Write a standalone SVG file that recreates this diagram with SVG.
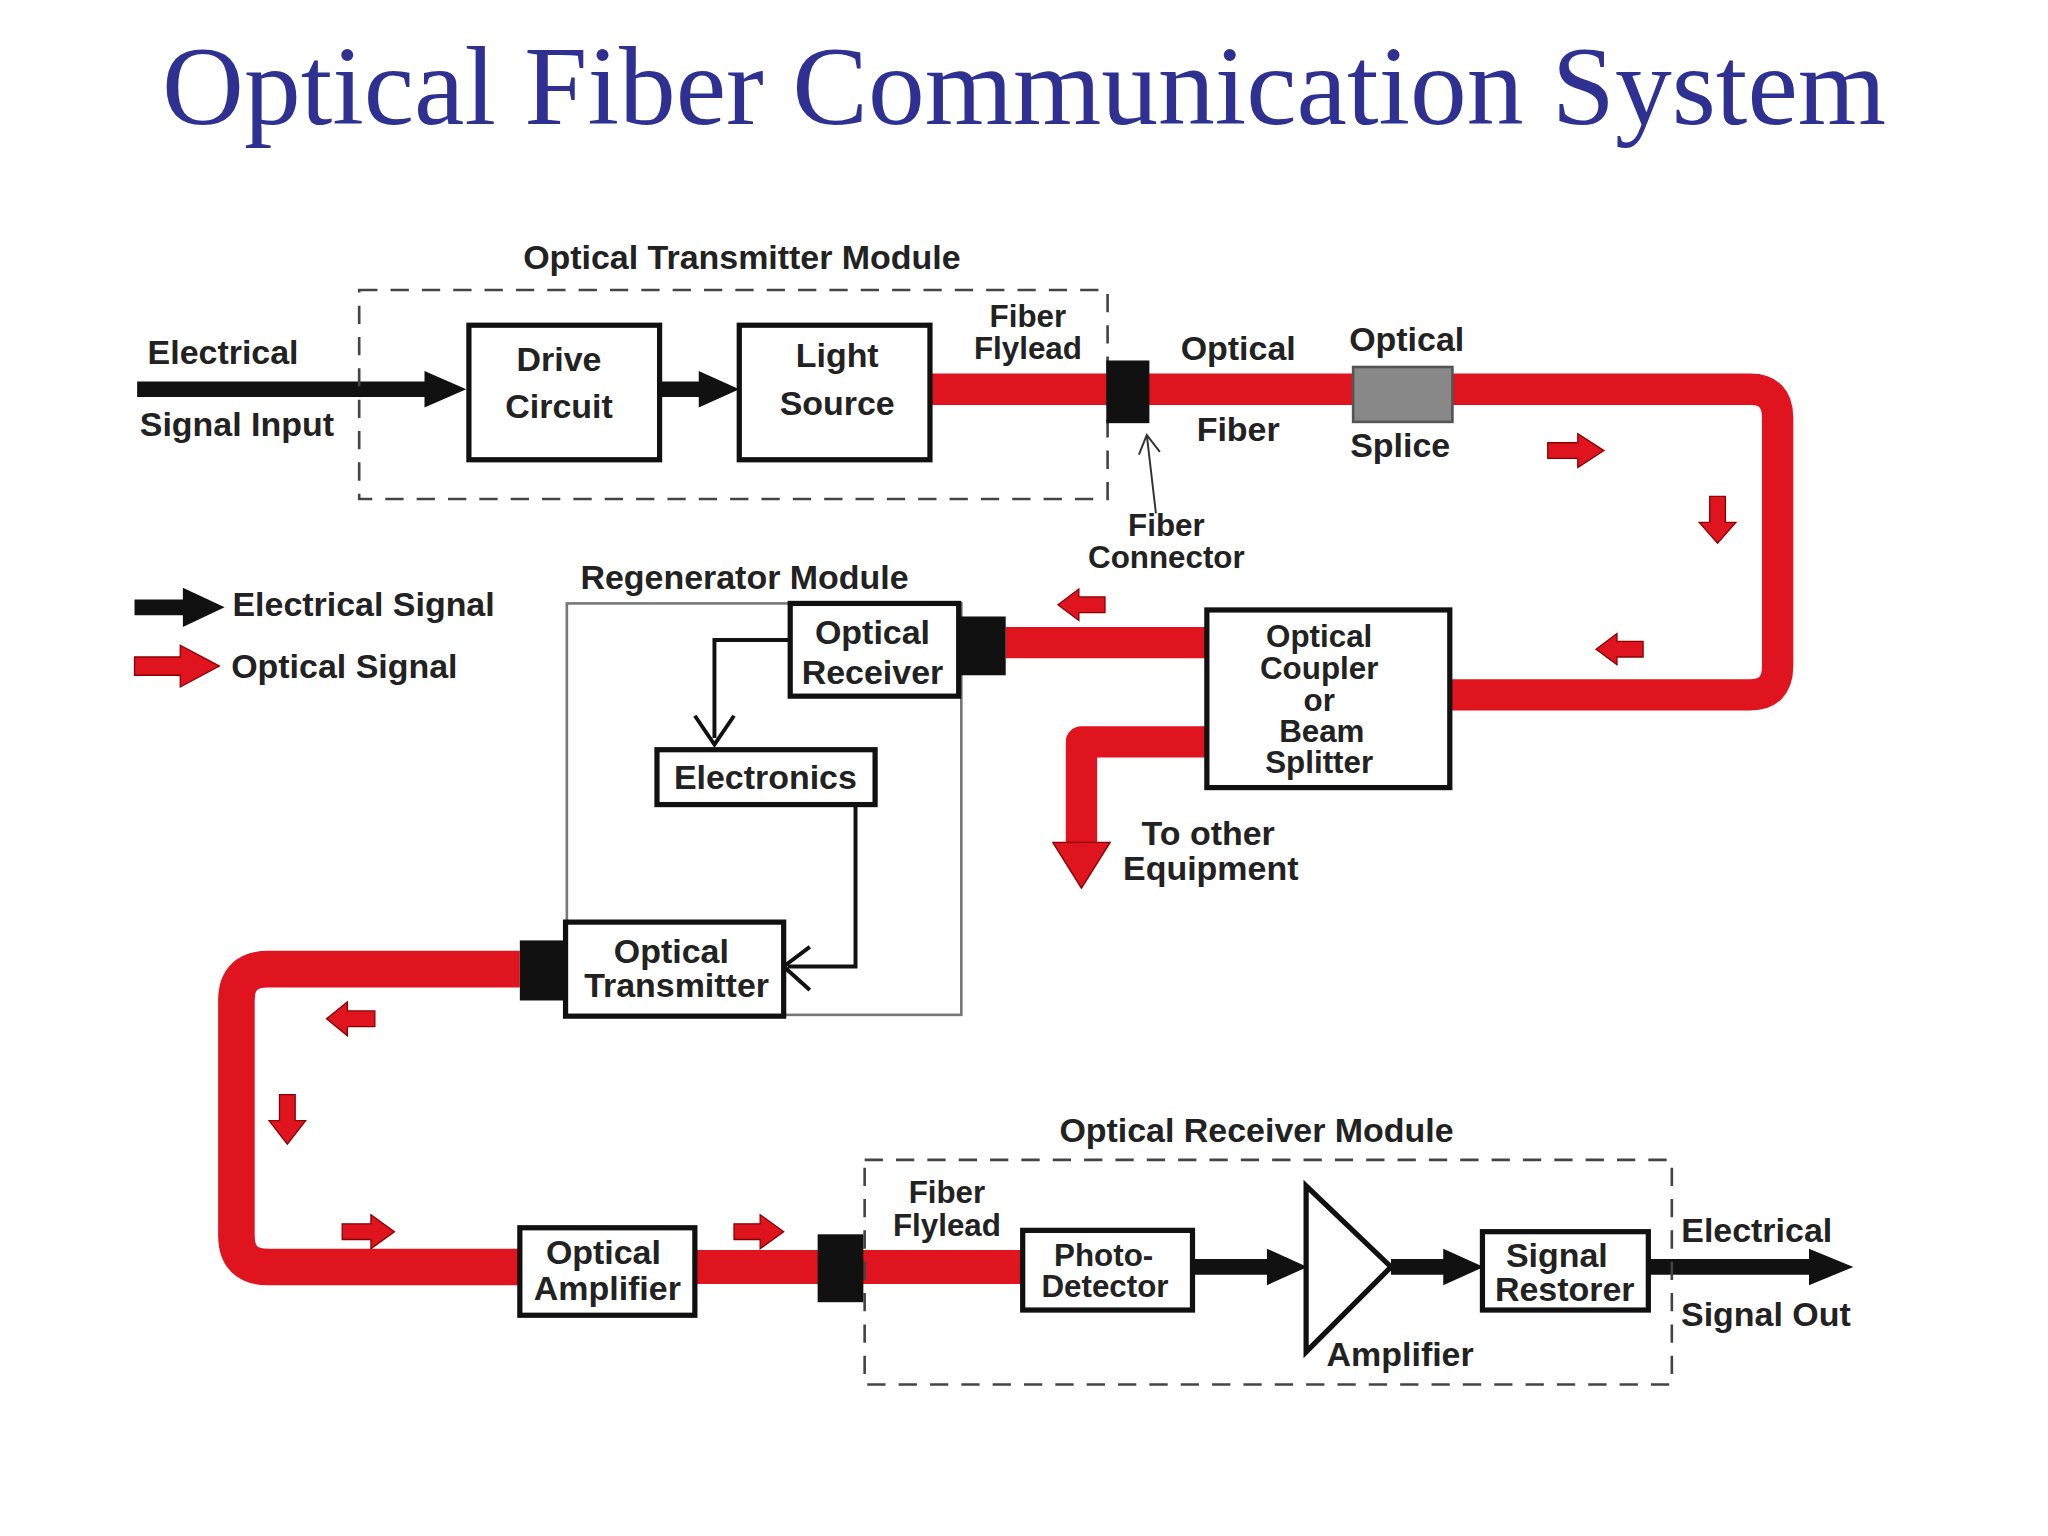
<svg xmlns="http://www.w3.org/2000/svg" width="2048" height="1536" viewBox="0 0 2048 1536">
<style>
.t{font-family:"Liberation Sans",Arial,sans-serif;font-weight:bold;font-size:26px;fill:#222}
.s{font-size:24px}
.c{text-anchor:middle}
.box{fill:#fff;stroke:#111;stroke-width:4}
.dash{fill:none;stroke:#444;stroke-width:2;stroke-dasharray:14 10}
.fib{fill:none;stroke:#e0141e;stroke-linejoin:round}
.blk{stroke:#111;stroke-width:12}
.ra{fill:#e0141e;stroke:#8a0000;stroke-width:1}
.thin{fill:none;stroke:#111;stroke-width:3}
</style>
<rect width="2048" height="1536" fill="#fff"/>
<g transform="scale(1.30612)">
<text x="784" y="95" text-anchor="middle" font-family="Liberation Serif,Times New Roman,serif" font-size="86" textLength="1320" lengthAdjust="spacingAndGlyphs" fill="#2e3192">Optical Fiber Communication System</text>

<g id="connectors">
<path class="fib" stroke-width="24" d="M712 298 H1340 Q1361 298 1361 320 V510 Q1361 532 1340 532 H1110"/>
<path class="fib" stroke-width="24" d="M770 492 H923"/>
<path class="fib" stroke-width="24" d="M923 568 H828 V648"/>
<polygon class="ra" points="806,645 850,645 828,680"/>
<path class="fib" stroke-width="28" d="M398 742 H205 Q181 742 181 766 V946 Q181 970 205 970 H398"/>
<path class="fib" stroke-width="26" d="M532 970 H782"/>
<line class="blk" x1="105" y1="298" x2="330" y2="298"/><polygon points="325,284 357,298 325,312" fill="#111"/>
<line class="blk" x1="505" y1="298" x2="540" y2="298"/><polygon points="535,284 566,298 535,312" fill="#111"/>
<line class="blk" x1="913" y1="970" x2="975" y2="970"/><polygon points="970,956 1001,970 970,984" fill="#111"/>
<line class="blk" x1="1065" y1="970" x2="1110" y2="970"/><polygon points="1105,956 1136,970 1105,984" fill="#111"/>
<line class="blk" x1="1262" y1="970" x2="1390" y2="970"/><polygon points="1385,956 1419,970 1385,984" fill="#111"/>
<polygon class="ra" points="1185,339 1208,339 1208,332 1228,345 1208,358 1208,351 1185,351"/>
<polygon class="ra" points="1309,380 1321,380 1321,400 1329,400 1315,416 1301,400 1309,400"/>
<polygon class="ra" points="1258,491 1238,491 1238,485 1222,497 1238,509 1238,503 1258,503"/>
<polygon class="ra" points="846,457 826,457 826,451 810,463 826,475 826,469 846,469"/>
<polygon class="ra" points="287,774 266,774 266,767 250,780 266,793 266,786 287,786"/>
<polygon class="ra" points="214,838 226,838 226,858 234,858 220,876 206,858 214,858"/>
<polygon class="ra" points="262,937 284,937 284,930 302,943 284,956 284,949 262,949"/>
<polygon class="ra" points="562,937 582,937 582,930 600,943 582,956 582,949 562,949"/>
<path class="thin" d="M605 490 H547 V565"/><path class="thin" d="M532 548 L547 570 L562 548"/>
<path class="thin" d="M655 616 V740 H603"/><path class="thin" d="M620 725 L600 740 L620 758"/>
<path fill="none" stroke="#333" stroke-width="1.5" d="M885 393 L878 333 M872 348 L878 333 L888 346"/>
</g>

<g id="modules">
<rect class="dash" x="275" y="222" width="573" height="160"/>
<text class="t c" x="568" y="206">Optical Transmitter Module</text>
<rect x="434" y="462" width="302" height="315" fill="none" stroke="#777" stroke-width="2"/>
<text class="t c" x="570" y="451">Regenerator  Module</text>
<rect class="dash" x="662" y="888" width="618" height="172"/>
<text class="t c" x="962" y="874">Optical Receiver Module</text>
</g>

<g id="legend">
<line class="blk" x1="103" y1="465" x2="145" y2="465"/><polygon points="140,450 172,465 140,480" fill="#111"/>
<text class="t" x="178" y="472">Electrical Signal</text>
<polygon class="ra" points="103,503 138,503 138,494 168,510 138,526 138,517 103,517"/>
<text class="t" x="177" y="519">Optical Signal</text>
</g>

<g id="n-input"><text class="t" x="113" y="279">Electrical</text><text class="t" x="107" y="334">Signal Input</text></g>
<g id="n-drive"><rect class="box" x="359" y="249" width="146" height="103"/><text class="t c" x="428" y="284">Drive</text><text class="t c" x="428" y="320">Circuit</text></g>
<g id="n-light"><rect class="box" x="566" y="249" width="146" height="103"/><text class="t c" x="641" y="281">Light</text><text class="t c" x="641" y="318">Source</text></g>
<g id="n-flylead1"><text class="t s c" x="787" y="250">Fiber</text><text class="t s c" x="787" y="275">Flylead</text></g>
<g id="n-conn1"><rect x="847" y="276" width="33" height="48" fill="#111"/><text class="t s c" x="893" y="410">Fiber</text><text class="t s c" x="893" y="435">Connector</text></g>
<g id="n-fiber"><text class="t c" x="948" y="276">Optical</text><text class="t c" x="948" y="338">Fiber</text></g>
<g id="n-splice"><rect x="1036" y="281" width="76" height="42" fill="#888" stroke="#555" stroke-width="2"/><text class="t c" x="1077" y="269">Optical</text><text class="t c" x="1072" y="350">Splice</text></g>
<g id="n-coupler"><rect class="box" x="924" y="467" width="186" height="136"/>
<text class="t s c" x="1010" y="495">Optical</text><text class="t s c" x="1010" y="520">Coupler</text><text class="t s c" x="1010" y="544">or</text><text class="t s c" x="1012" y="568">Beam</text><text class="t s c" x="1010" y="592">Splitter</text></g>
<g id="n-other"><text class="t c" x="925" y="647">To other</text><text class="t c" x="927" y="674">Equipment</text></g>
<g id="n-orx"><rect class="box" x="605" y="462" width="129" height="71"/><rect x="734" y="472" width="36" height="45" fill="#111"/><text class="t c" x="668" y="493">Optical</text><text class="t c" x="668" y="524">Receiver</text></g>
<g id="n-elec"><rect class="box" x="503" y="574" width="167" height="42"/><text class="t c" x="586" y="604">Electronics</text></g>
<g id="n-otx"><rect class="box" x="433" y="706" width="167" height="72"/><rect x="398" y="720" width="36" height="46" fill="#111"/><text class="t c" x="514" y="737">Optical</text><text class="t c" x="518" y="763">Transmitter</text></g>
<g id="n-oamp"><rect class="box" x="398" y="940" width="134" height="67"/><rect x="626" y="945" width="35" height="52" fill="#111"/><text class="t c" x="462" y="968">Optical</text><text class="t c" x="465" y="995">Amplifier</text></g>
<g id="n-flylead2"><text class="t s c" x="725" y="921">Fiber</text><text class="t s c" x="725" y="946">Flylead</text></g>
<g id="n-pd"><rect class="box" x="783" y="942" width="130" height="61"/><text class="t s c" x="845" y="969">Photo-</text><text class="t s c" x="846" y="993">Detector</text></g>
<g id="n-amp"><polygon points="1000,908 1000,1035 1065,970" fill="#fff" stroke="#111" stroke-width="4"/><text class="t c" x="1072" y="1046">Amplifier</text></g>
<g id="n-sr"><rect class="box" x="1135" y="943" width="127" height="60"/><text class="t c" x="1192" y="970">Signal</text><text class="t c" x="1198" y="996">Restorer</text></g>
<g id="n-out"><text class="t c" x="1345" y="951">Electrical</text><text class="t c" x="1352" y="1015">Signal Out</text></g>
</g>
</svg>
